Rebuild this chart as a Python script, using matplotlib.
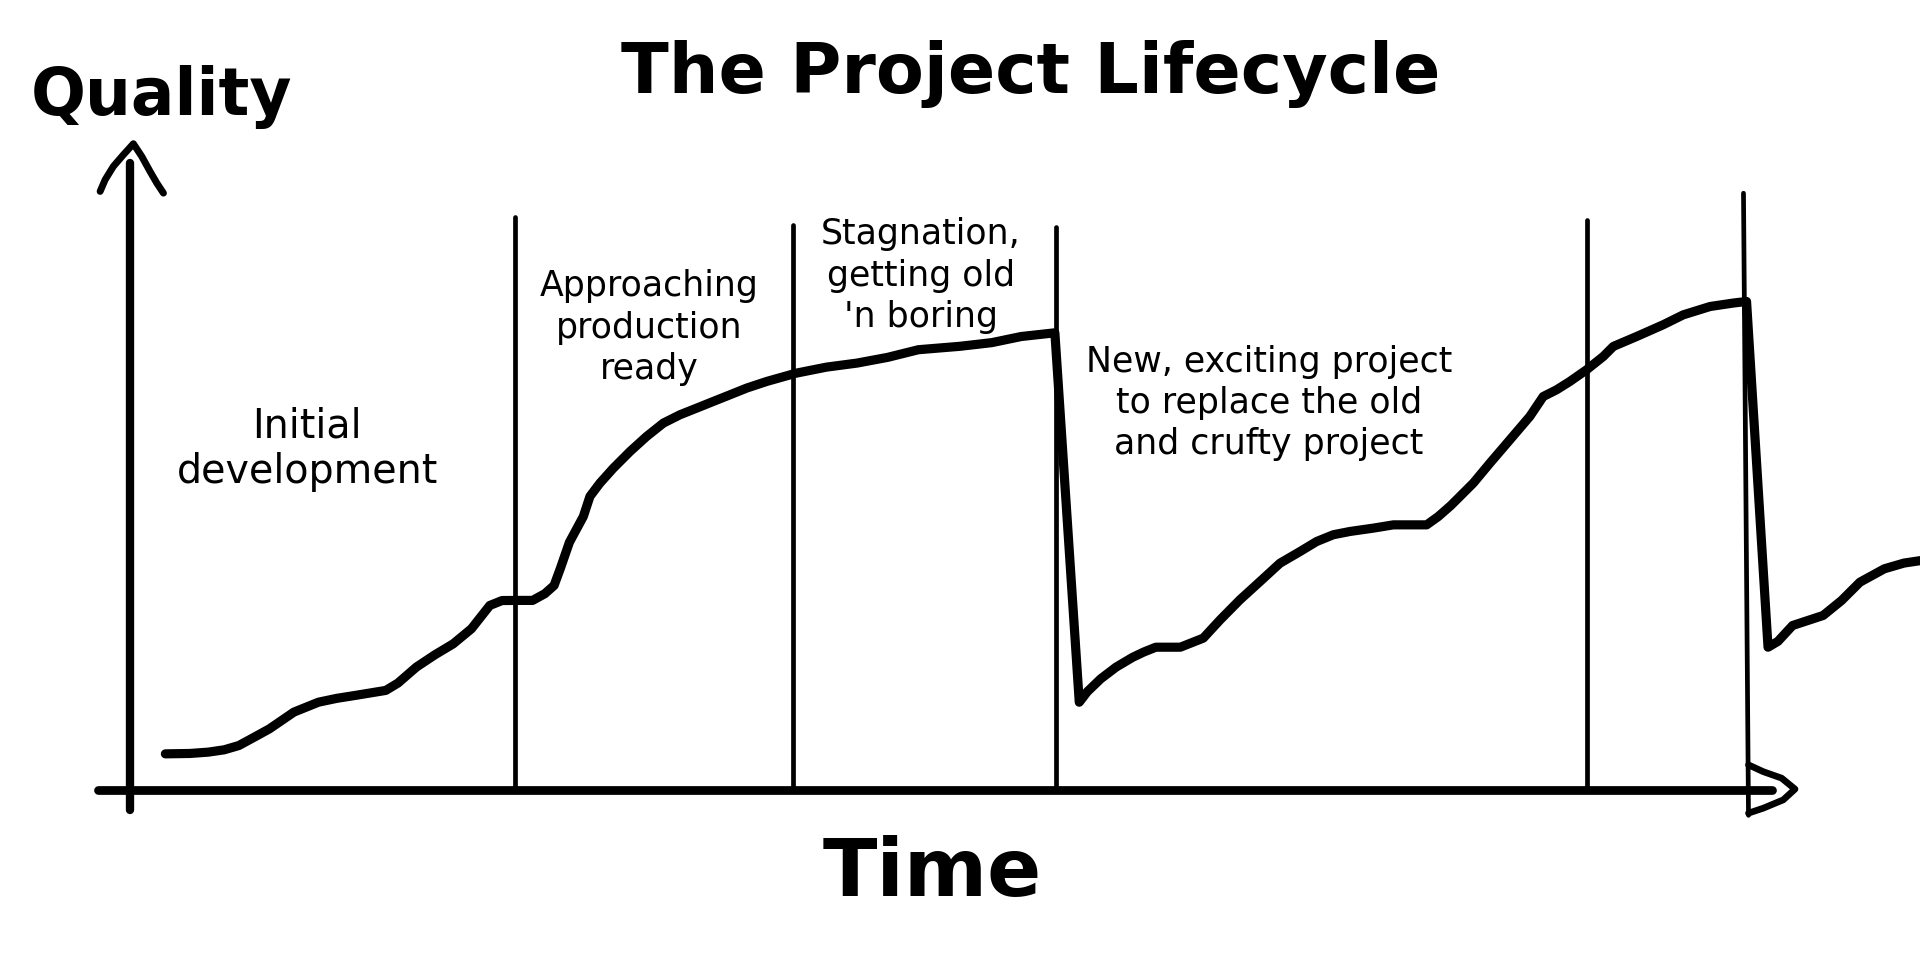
import matplotlib
matplotlib.use("Agg")
import matplotlib.pyplot as plt

# ---------------- data ----------------
# quality curve (time, quality)
time_a = [2.20, 3.71, 4.85, 5.84, 6.75, 7.73, 8.64, 10.16, 11.68, 12.81, 13.95, 15.85,
          16.60, 17.74, 18.88, 20.02, 21.15, 22.29, 23.05, 24.19, 24.94, 25.70, 26.27,
          26.65, 27.22, 28.08, 28.49, 29.11, 29.94, 30.97, 32.00, 33.04, 34.07, 35.10,
          36.13, 37.16, 38.20, 39.44, 41.24,
          43.14, 45.03, 46.93, 48.83, 51.40, 53.37, 55.19, 57.28,
          58.79,
          59.29, 60.12, 61.07, 62.09, 62.78, 63.53, 65.05, 66.47, 67.51, 68.74, 69.98,
          71.22, 72.46, 73.49, 74.52, 75.55, 77.00, 78.24, 80.30, 81.02, 81.80,
          83.19, 84.22, 85.46, 86.69, 87.52, 88.35, 89.17, 90.20, 91.24, 91.86, 93.30,
          94.95, 96.19, 97.85, 99.29, 100.11,
          101.44,
          102.05, 102.96, 104.85, 105.99, 107.13, 108.64, 109.86, 111.37]
quality_a = [5.67, 5.73, 5.94, 6.31, 6.99, 8.35, 9.63, 12.29, 13.86, 14.47, 14.93, 15.73,
             16.89, 19.42, 21.36, 23.11, 25.50, 29.20, 29.98, 30.0, 30.0, 31.07, 32.37,
             35.01, 39.22, 43.30, 46.49, 48.60, 50.97, 53.61, 56.00, 58.12, 59.44, 60.49,
             61.55, 62.60, 63.67, 64.72, 66.02,
             66.99, 67.63, 68.54, 69.75, 70.29, 70.87, 71.84, 72.43,
             13.86,
             15.53, 17.57, 19.42, 20.97, 21.81, 22.58, 22.58, 24.02, 26.91, 30.10, 32.99,
             35.90, 37.75, 39.34, 40.41, 40.93, 41.46, 41.98, 41.98, 43.30, 45.05,
             48.60, 51.77, 55.48, 59.17, 62.33, 63.40, 64.72, 66.56, 68.68, 70.27, 71.84,
             73.71, 75.28, 76.60, 77.15, 77.40,
             22.58,
             23.50, 26.02, 27.61, 29.98, 32.89, 35.01, 35.92, 36.50]

# phase separators: time position, top quality, bottom quality
phase_time_top = [23.88, 41.09, 57.32, 90.22, 99.92]
phase_time_bottom = [23.88, 41.09, 57.32, 90.22, 100.23]
phase_top = [90.87, 89.51, 89.13, 90.29, 94.56]
phase_bottom = [0.0, 0.0, 0.0, 0.0, -4.08]

phase_labels = ["Initial\ndevelopment",
                "Approaching\nproduction\nready",
                "Stagnation,\ngetting old\n'n boring",
                "New, exciting project\nto replace the old\nand crufty project"]
phase_label_pos = [(0.1601, 0.5309), (0.3380, 0.6581), (0.4796, 0.7124), (0.6610, 0.5795)]
phase_label_size = [28.5, 25, 25, 25]
phase_label_spacing = [1.2, 1.27, 1.27, 1.27]

title = "The Project Lifecycle"
xlabel = "Time"
ylabel = "Quality"

# hand-drawn axes decorations
yaxis_t = [0.0, 0.0]
yaxis_q = [99.4, -3.3]
yarrow_t = [-1.84, -1.53, -1.02, -0.40, 0.22, 0.74, 1.25, 1.67, 2.08]
yarrow_q = [94.85, 96.70, 98.82, 100.66, 102.41, 100.39, 98.02, 96.17, 94.58]
xaxis_t = [-1.97, 101.67]
xaxis_q = [0.0, 0.0]
xarrow_t = [100.23, 101.14, 102.28, 103.11, 102.38, 101.14, 100.23]
xarrow_q = [3.92, 2.85, 1.82, 0.08, -1.63, -2.95, -3.73]

# ---------------- figure ----------------
fig = plt.figure(figsize=(19.2, 9.58), dpi=100)
fig.patch.set_facecolor("white")
ax = fig.add_axes([0, 0, 1, 1])
ax.set_xlim(-8.04, 110.85)
ax.set_ylim(-26.7, 125.2)
ax.axis("off")

common = dict(color="black", solid_capstyle="round", solid_joinstyle="round")

ax.plot(yaxis_t, yaxis_q, lw=6, **common)
ax.plot(yarrow_t, yarrow_q, lw=5, **common)
ax.plot(xaxis_t, xaxis_q, lw=6.3, **common)
ax.plot(xarrow_t, xarrow_q, lw=4.8, **common)

for t0, t1, q0, q1 in zip(phase_time_top, phase_time_bottom, phase_top, phase_bottom):
    ax.plot([t0, t1], [q0, q1], lw=3.4, **common)

ax.plot(time_a, quality_a, lw=6.6, **common)

for lab, (px, py), fs, ls in zip(phase_labels, phase_label_pos, phase_label_size,
                                 phase_label_spacing):
    fig.text(px, py, lab, ha="center", va="center", multialignment="center",
             fontsize=fs, linespacing=ls, family="DejaVu Sans")

fig.text(0.537, 0.9026, title, ha="center", va="baseline", fontsize=50.3,
         fontweight="bold", family="DejaVu Sans")
fig.text(0.0159, 0.8799, ylabel, ha="left", va="baseline", fontsize=46.5,
         fontweight="bold", family="DejaVu Sans")
fig.text(0.4853, 0.065, xlabel, ha="center", va="baseline", fontsize=57.5,
         fontweight="bold", family="DejaVu Sans")

fig.savefig("out.png", dpi=100, facecolor="white")
